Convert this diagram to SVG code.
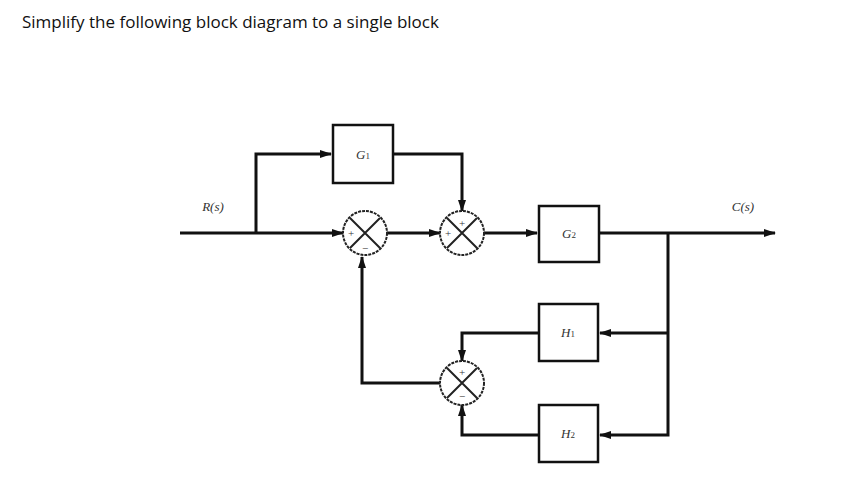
<svg xmlns="http://www.w3.org/2000/svg" width="845" height="480" viewBox="0 0 845 480">
<style>
.w{fill:none;stroke:#111;stroke-width:3}
.b{fill:#fff;stroke:#111;stroke-width:2.5}
.s{fill:#fff;stroke:#222;stroke-width:2;stroke-dasharray:3 1}
.x{stroke:#222;stroke-width:2}
.l{font-family:"Liberation Serif",serif;font-style:italic;font-size:13px;fill:#333}
.g{font-family:"Liberation Serif",serif;font-size:11px;fill:#333}
.t{font-family:"Open Sans",sans-serif;font-size:17px;fill:#111}
</style>
<defs><marker id="a" markerWidth="12" markerHeight="8" refX="11" refY="4" orient="auto" markerUnits="userSpaceOnUse"><path d="M0,0L12,4L0,8z" fill="#111"/></marker></defs>
<rect width="845" height="480" fill="#fff"/>
<text class="t" x="22" y="28">Simplify the following block diagram to a single block</text>
<g id="connectors">
<path class="w" d="M180,233H343" marker-end="url(#a)"/>
<path class="w" d="M256,233V154H331" marker-end="url(#a)"/>
<path class="w" d="M393,154H462V211" marker-end="url(#a)"/>
<path class="w" d="M387,233H440" marker-end="url(#a)"/>
<path class="w" d="M484,233H537" marker-end="url(#a)"/>
<path class="w" d="M599,233H775" marker-end="url(#a)"/>
<path class="w" d="M668,233V435H600" marker-end="url(#a)"/>
<path class="w" d="M668,333H600" marker-end="url(#a)"/>
<path class="w" d="M539,333H462V361" marker-end="url(#a)"/>
<path class="w" d="M539,435H462V405" marker-end="url(#a)"/>
<path class="w" d="M440,383H362V257" marker-end="url(#a)"/>
</g>
<g id="G1"><rect class="b" x="333" y="125" width="60" height="58"/><text class="l" x="363" y="159" text-anchor="middle">G<tspan font-size="9" font-style="normal">1</tspan></text></g>
<g id="G2"><rect class="b" x="539" y="206" width="60" height="56"/><text class="l" x="569" y="238" text-anchor="middle">G<tspan font-size="9" font-style="normal">2</tspan></text></g>
<g id="H1"><rect class="b" x="539" y="304" width="59" height="57"/><text class="l" x="568" y="337" text-anchor="middle">H<tspan font-size="9" font-style="normal">1</tspan></text></g>
<g id="H2"><rect class="b" x="539" y="405" width="59" height="57"/><text class="l" x="568" y="438" text-anchor="middle">H<tspan font-size="9" font-style="normal">2</tspan></text></g>
<g id="sum1"><circle class="s" cx="365" cy="233" r="22"/><path class="x" d="M350,218L380,248M380,218L350,248"/><text class="g" x="348" y="237">+</text><text class="g" x="365" y="252" text-anchor="middle">−</text></g>
<g id="sum2"><circle class="s" cx="462" cy="233" r="22"/><path class="x" d="M447,218L477,248M477,218L447,248"/><text class="g" x="445" y="237">+</text><text class="g" x="462" y="227" text-anchor="middle">+</text></g>
<g id="sum3"><circle class="s" cx="462" cy="383" r="22"/><path class="x" d="M447,368L477,398M477,368L447,398"/><text class="g" x="462" y="376" text-anchor="middle">+</text><text class="g" x="462" y="400" text-anchor="middle">−</text></g>
<text class="l" x="213" y="211" text-anchor="middle">R(s)</text>
<text class="l" x="743" y="211" text-anchor="middle">C(s)</text>
</svg>
